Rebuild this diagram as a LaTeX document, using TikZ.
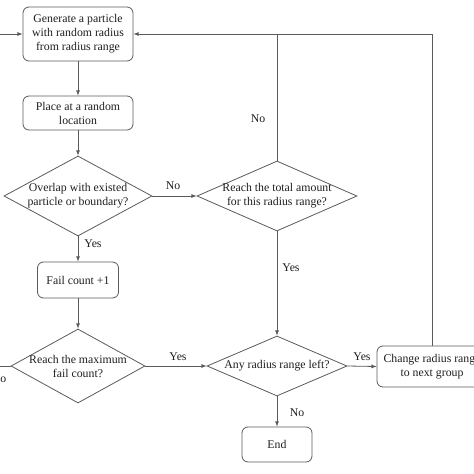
\documentclass[tikz,border=0pt]{standalone}
\usepackage{fontspec}
\setmainfont{Liberation Serif}
\usetikzlibrary{shapes.geometric}
\definecolor{edgegray}{HTML}{5A5A5A}
\definecolor{inkgray}{HTML}{1E1E1E}
\begin{document}
\begin{tikzpicture}[x=1pt,y=-1pt,>=latex,
    every node/.style={text=inkgray,font=\fontsize{11.8}{14}\selectfont},
    procbox/.style={draw=edgegray,line width=0.8pt,rounded corners=6pt,align=center},
    decision/.style={draw=edgegray,line width=0.8pt,diamond,align=center,inner sep=-12pt},
    flow/.style={draw=edgegray,line width=0.8pt}]
  \useasboundingbox (0,0) rectangle (474,474);
  % boxes
  \node[procbox,minimum width=110pt,minimum height=54pt] (gen) at (78,34) {Generate a particle\\with random radius\\from radius range};
  \node[procbox,minimum width=110pt,minimum height=34pt] (place) at (78,113) {Place at a random\\location};
  \node[decision,minimum width=148pt,minimum height=80pt,aspect=1.85] (overlap) at (78,196) {Overlap with existed\\particle or boundary?};
  \node[decision,minimum width=160pt,minimum height=70pt,aspect=2.3] (total) at (277,196) {Reach the total amount\\for this radius range?};
  \node[procbox,minimum width=81pt,minimum height=36pt] (fail) at (78,280) {Fail count +1};
  \node[decision,minimum width=134pt,minimum height=74pt,aspect=1.8] (maxfail) at (78,366) {Reach the maximum\\fail count?};
  \node[decision,minimum width=140pt,minimum height=60pt,aspect=2.3] (left) at (277,366) {Any radius range left?};
  \node[procbox,minimum width=110pt,minimum height=41pt] (change) at (432,366.5) {Change radius range\\to next group};
  \node[procbox,minimum width=70pt,minimum height=35pt] (end) at (277,444.5) {End};
  \coordinate (inL) at (-10,34);
  \coordinate (outL) at (-10,366);
  % connectors
  \draw[flow,->] (inL) -- (gen.west);
  \draw[flow,->] (gen.south) -- (place.north);
  \draw[flow,->] (place.south) -- (overlap.north);
  \draw[flow,->] (overlap.east) -- (total.west);
  \draw[flow,->] (overlap.south) -- (fail.north);
  \draw[flow,->] (fail.south) -- (maxfail.north);
  \draw[flow] (maxfail.west) -- (outL);
  \draw[flow,->] (maxfail.east) -- (left.west);
  \draw[flow,->] (total.south) -- (left.north);
  \draw[flow] (total.north) -- (total.north |- gen.east);
  \draw[flow,->] (change.north) |- (gen.east);
  \draw[flow,->] (left.east) -- (change.west);
  \draw[flow,->] (left.south) -- (end.north);
  % labels
  \node (no1) at (173,186) {No};
  \node (no2) at (258,119) {No};
  \node (yes1) at (93,244) {Yes};
  \node (yes2) at (291,268) {Yes};
  \node (yes3) at (178,357) {Yes};
  \node (yes4) at (362,357) {Yes};
  \node (no3) at (297,413) {No};
  \node (no4) at (-1,379) {No};
\end{tikzpicture}
\end{document}
